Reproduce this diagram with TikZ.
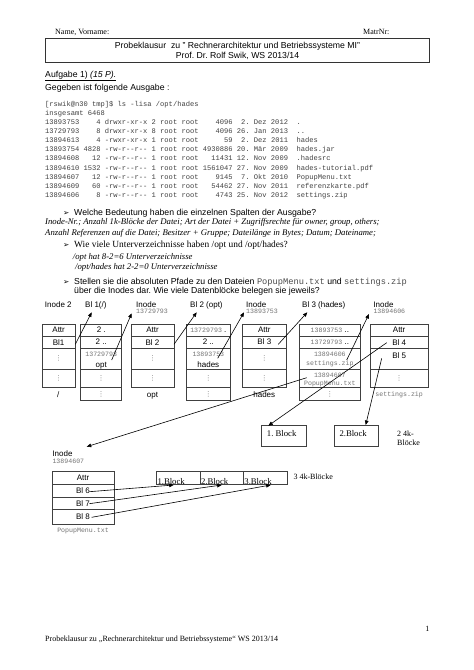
\documentclass[tikz,border=0pt]{standalone}
\usepackage{fontspec}
\setmainfont{Liberation Serif}
\setsansfont{Liberation Sans}
\setmonofont{Liberation Mono}
\newfontfamily\dejavu{DejaVu Sans}
\usetikzlibrary{arrows.meta}
\newcommand\fsz[1]{\fontsize{#1}{#1}\selectfont}
\newcommand\sB{\sffamily\fsz{8.7}}
\newcommand\sD{\sffamily\fsz{8}}
\newcommand\rA{\rmfamily\fsz{8}}
\newcommand\rB{\rmfamily\fsz{9.4}}
\newcommand\rI{\rmfamily\itshape\fsz{8.7}}
\newcommand\mono[1]{{\ttfamily\fsz{6.6}\color{black!55}#1}}
\newcommand\bul{{\dejavu\fsz{7.5}➢}}
\newcommand\vdt{{\dejavu\fsz{7}\color{black!50}⋮}}
\newcommand\mkcell[6]{\node[cell,minimum width=#3pt,minimum height=#5pt] (#1) at (#2,#4) {#6};}
\frenchspacing
\tikzset{
  tw/.style={inner sep=0pt, anchor=base west},
  tc/.style={inner sep=0pt, anchor=base},
  cell/.style={draw=black!75, line width=0.6pt, inner sep=0pt, font=\sD},
  arr/.style={line width=0.6pt, -{Triangle[length=4.5pt,width=3.6pt]}},
  lst/.style={tw, font=\ttfamily\fsz{7.1}, text=black!75},
  lbl/.style={tw, font=\sD},
  mlbl/.style={tw, font=\ttfamily\fsz{6.6}, text=black!55},
}
\begin{document}
\begin{tikzpicture}[x=1pt,y=-1pt]
\useasboundingbox (0,0) rectangle (474,670);
\fill[white] (0,0) rectangle (474,670);

% header
\node[tw, font=\rA] (name) at (55,34.8) {Name, Vorname:};
\node[tw, font=\rA] (matr) at (363,34.8) {MatrNr:};
\node[draw=black!80, line width=0.7pt, minimum width=384pt, minimum height=24pt, inner sep=0pt] (hdr) at (237,50) {};
\node[tc, font=\sB] (h1) at (237.5,48.6) {Probeklausur\ \ zu " Rechnerarchitektur und Betriebssysteme MI"};
\node[tc, font=\sB] (h2) at (237.5,58.8) {Prof. Dr. Rolf Swik, WS 2013/14};

\node[tw, font=\sB] (auf) at (45,77) {\underline{Aufgabe 1) \textit{(15 P).}}};
\node[tw, font=\sB] (geg) at (45,90) {Gegeben ist folgende Ausgabe :};

% listing
\node[lst] (l0) at (45,106.3) {[rswik@n30 tmp]\$ ls -lisa /opt/hades};
\node[lst] (l1) at (45,115.4) {insgesamt 6468};
\node[lst] (l2) at (45,124.5) {13893753~~~~4 drwxr-xr-x 2 root root~~~~4096~~2. Dez 2012~~.};
\node[lst] (l3) at (45,133.6) {13729793~~~~8 drwxr-xr-x 8 root root~~~~4096 26. Jan 2013~~..};
\node[lst] (l4) at (45,142.7) {13894613~~~~4 -rwxr-xr-x 1 root root~~~~~~59~~2. Dez 2011~~hades};
\node[lst] (l5) at (45,151.8) {13893754 4828 -rw-r--r-- 1 root root 4930886 20. Mär 2009~~hades.jar};
\node[lst] (l6) at (45,160.9) {13894608~~~12 -rw-r--r-- 1 root root~~~11431 12. Nov 2009~~.hadesrc};
\node[lst] (l7) at (45,170.0) {13894610 1532 -rw-r--r-- 1 root root 1561047 27. Nov 2009~~hades-tutorial.pdf};
\node[lst] (l8) at (45,179.1) {13894607~~~12 -rw-r--r-- 1 root root~~~~9145~~7. Okt 2010~~PopupMenu.txt};
\node[lst] (l9) at (45,188.2) {13894609~~~60 -rw-r--r-- 1 root root~~~54462 27. Nov 2011~~referenzkarte.pdf};
\node[lst] (l10) at (45,197.3) {13894606~~~~8 -rw-r--r-- 1 root root~~~~4743 25. Nov 2012~~settings.zip};

% questions
\node[tw] (b1) at (63,215) {\bul};
\node[tw, font=\sB] (q1) at (74,215) {Welche Bedeutung haben die einzelnen Spalten der Ausgabe?};
\node[tw, font=\rI] (a1) at (45,224.5) {Inode-Nr.; Anzahl 1k-Blöcke der Datei; Art der Datei + Zugriffsrechte für owner, group, others;};
\node[tw, font=\rI] (a2) at (45,235) {Anzahl Referenzen auf die Datei; Besitzer + Gruppe; Dateilänge in Bytes; Datum; Dateiname;};
\node[tw] (b2) at (63,247.3) {\bul};
\node[tw, font=\rB] (q2) at (74,247.3) {Wie viele Unterverzeichnisse haben /opt und /opt/hades?};
\node[tw, font=\rI] (a3) at (72.7,259) {/opt hat 8-2=6 Unterverzeichnisse};
\node[tw, font=\rI] (a4) at (75,269.7) {/opt/hades hat 2-2=0 Unterverzeichnisse};
\node[tw] (b3) at (63,284.3) {\bul};
\node[tw, font=\sB] (q3) at (74,284.3) {Stellen sie die absoluten Pfade zu den Dateien {\ttfamily\color{black!70}PopupMenu.txt} und {\ttfamily\color{black!70}settings.zip}};
\node[tw, font=\sB] (q3b) at (74,293.7) {über die Inodes dar. Wie viele Datenblöcke belegen sie jeweils?};

% labels above tables
\node[tc, font=\sD] (in2) at (58.3,307.8) {Inode 2};
\node[lbl] (lb1) at (85,307.8) {Bl 1(/)};
\node[lbl] (in3) at (136,307.8) {Inode};
\node[mlbl] (in3n) at (136,313.9) {13729793};
\node[lbl] (lb2) at (190,307.8) {Bl 2 (opt)};
\node[lbl] (in5) at (246,307.8) {Inode};
\node[mlbl] (in5n) at (246,313.9) {13893753};
\node[lbl] (lb3) at (302,307.8) {Bl 3 (hades)};
\node[lbl] (in7) at (373.3,307.8) {Inode};
\node[mlbl] (in7n) at (373.3,313.9) {13894606};

% table 1 (inode 2)
\mkcell{t1a}{58.65}{33.3}{330.1}{11.6}{Attr}
\mkcell{t1b}{58.65}{33.3}{342.1}{12.4}{Bl1}
\mkcell{t1c}{58.65}{33.3}{358.65}{20.7}{\vdt}
\mkcell{t1d}{58.65}{33.3}{378.35}{18.7}{\vdt}
\node[tc, font=\sD] (t1l) at (58.3,397.1) {/};
% table 2 (Bl 1)
\mkcell{t2a}{101.2}{41}{330.1}{11.6}{2 .}
\mkcell{t2b}{101.2}{41}{342.1}{12.4}{2 ..}
\mkcell{t2c}{101.2}{41}{358.65}{20.7}{}
\mkcell{t2d}{101.2}{41}{378.35}{18.7}{\vdt}
\mkcell{t2e}{101.2}{41}{394}{12.6}{\vdt}
\node[tc, font=\ttfamily\fsz{6.6}, text=black!55] (t2c1) at (101.2,356.5) {13729793};
\node[tc, font=\sD] (t2c2) at (101.2,367.1) {opt};
% table 3 (inode 13729793)
\mkcell{t3a}{152.5}{43}{330.1}{11.6}{Attr}
\mkcell{t3b}{152.5}{43}{342.1}{12.4}{Bl 2}
\mkcell{t3c}{152.5}{43}{358.65}{20.7}{\vdt}
\mkcell{t3d}{152.5}{43}{378.35}{18.7}{\vdt}
\node[tc, font=\sD] (t3l) at (152.5,397.1) {opt};
% table 4 (Bl 2)
\mkcell{t4a}{208.35}{43.3}{330.1}{11.6}{\mono{13729793} .}
\mkcell{t4b}{208.35}{43.3}{342.1}{12.4}{2 ..}
\mkcell{t4c}{208.35}{43.3}{358.65}{20.7}{}
\mkcell{t4d}{208.35}{43.3}{378.35}{18.7}{\vdt}
\mkcell{t4e}{208.35}{43.3}{394}{12.6}{\vdt}
\node[tc, font=\ttfamily\fsz{6.6}, text=black!55] (t4c1) at (208.35,356.5) {13893753};
\node[tc, font=\sD] (t4c2) at (208.35,367.1) {hades};
% table 5 (inode 13893753)
\mkcell{t5a}{264.35}{43.3}{330.1}{11.6}{Attr}
\mkcell{t5b}{264.35}{43.3}{342.1}{12.4}{Bl 3}
\mkcell{t5c}{264.35}{43.3}{358.65}{20.7}{\vdt}
\mkcell{t5d}{264.35}{43.3}{378.35}{18.7}{\vdt}
\node[tc, font=\sD] (t5l) at (264.3,397.1) {hades};
% table 6 (Bl 3)
\mkcell{t6a}{329.85}{61.7}{330.1}{11.6}{\mono{13893753} ..}
\mkcell{t6b}{329.85}{61.7}{342.1}{12.4}{\mono{13729793} ..}
\mkcell{t6c}{329.85}{61.7}{358.65}{20.7}{}
\mkcell{t6d}{329.85}{61.7}{378.35}{18.7}{}
\mkcell{t6e}{329.85}{61.7}{394}{12.6}{\vdt}
\node[tc, font=\ttfamily\fsz{6.6}, text=black!55] (t6c1) at (329.85,356.5) {13894606};
\node[tc, font=\ttfamily\fsz{6.6}, text=black!55] (t6c2) at (329.85,365.5) {settings.zip};
\node[tc, font=\ttfamily\fsz{6.6}, text=black!55] (t6d1) at (329.85,377.2) {13894607};
\node[tc, font=\ttfamily\fsz{6.6}, text=black!55] (t6d2) at (329.85,385.5) {PopupMenu.txt};
% table 7 (inode 13894606)
\mkcell{t7a}{399.15}{58.3}{330.1}{11.6}{Attr}
\mkcell{t7b}{399.15}{58.3}{342.1}{12.4}{Bl 4}
\mkcell{t7c}{399.15}{58.3}{358.65}{20.7}{}
\mkcell{t7d}{399.15}{58.3}{378.35}{18.7}{\vdt}
\node[tc, font=\sD] (t7c1) at (399.15,358.8) {Bl 5};
\node[tc, font=\ttfamily\fsz{6.6}, text=black!55] (t7l) at (399.15,396.5) {settings.zip};

% blocks of settings.zip
\node[draw=black!75, line width=0.6pt, minimum width=45pt, minimum height=21.7pt, inner sep=0pt] (ub1) at (284.2,435.85) {};
\node[tw, font=\rmfamily\fsz{8.7}] (ub1t) at (266.7,436.3) {1. Block};
\node[draw=black!75, line width=0.6pt, minimum width=44pt, minimum height=21.7pt, inner sep=0pt] (ub2) at (356.3,435.85) {};
\node[tw, font=\rmfamily\fsz{8.7}] (ub2t) at (339.3,436.3) {2.Block};
\node[tw, font=\rA] (k2a) at (397,436.2) {2 4k-};
\node[tw, font=\rA] (k2b) at (397,445) {Blöcke};

% inode 13894607
\node[lbl] (in8) at (52.3,456.1) {Inode};
\node[mlbl] (in8n) at (52.3,463.9) {13894607};
\mkcell{t8a}{83}{62}{478.15}{12.9}{Attr}
\mkcell{t8b}{83}{62}{490.8}{12.4}{Bl 6}
\mkcell{t8c}{83}{62}{503.3}{12.6}{Bl 7}
\mkcell{t8d}{83}{62}{516.8}{14.4}{Bl 8}
\node[tc, font=\ttfamily\fsz{6.6}, text=black!55] (t8l) at (83,532.5) {PopupMenu.txt};

% blocks of PopupMenu.txt
\mkcell{bk1}{178.5}{43.6}{478}{12.6}{}
\mkcell{bk2}{222}{43.4}{478}{12.6}{}
\mkcell{bk3}{265.7}{44}{478}{12.6}{}
\node[tw, font=\rmfamily\fsz{8.7}] (bk1t) at (157.3,484.3) {1.Block};
\node[tw, font=\rmfamily\fsz{8.7}] (bk2t) at (200.8,484.3) {2.Block};
\node[tw, font=\rmfamily\fsz{8.7}] (bk3t) at (244.2,484.3) {3.Block};
\node[tw, font=\rA] (k3) at (293.3,479.5) {3 4k-Blöcke};

% connector ends
\coordinate (s1) at (75.3,344.3);  \coordinate (e1) at (91.7,312.3);
\coordinate (s2) at (111.7,360);   \coordinate (e2) at (131.7,313.3);
\coordinate (s3) at (174,344.3);   \coordinate (e3) at (196.7,312.3);
\coordinate (s4) at (217.7,358.3); \coordinate (e4) at (244,312.3);
\coordinate (s5) at (278.3,344.3); \coordinate (e5) at (307.3,312.3);
\coordinate (s6) at (346.7,360);   \coordinate (e6) at (369,314);
\coordinate (s7) at (306.7,377.7); \coordinate (e7) at (86.7,446.7);
\coordinate (s8) at (386.7,342.7); \coordinate (e8) at (268.3,425.7);
\coordinate (s9) at (381.7,358.3); \coordinate (e9) at (365.7,425);
\coordinate (s10) at (89.3,491.7); \coordinate (e10) at (173.7,485);
\coordinate (s11) at (89.3,503.7); \coordinate (e11) at (221.7,485);
\coordinate (s12) at (91.7,517.3); \coordinate (e12) at (270.7,485);
\foreach \i in {1,...,12} {\draw[arr] (s\i) -- (e\i);}

% footer
\node[tc, font=\rA] (pg) at (427.3,631) {1};
\node[tw, font=\rA] (foot) at (45,641) {Probeklausur zu „Rechnerarchitektur und Betriebssysteme“ WS 2013/14};
\end{tikzpicture}
\end{document}
